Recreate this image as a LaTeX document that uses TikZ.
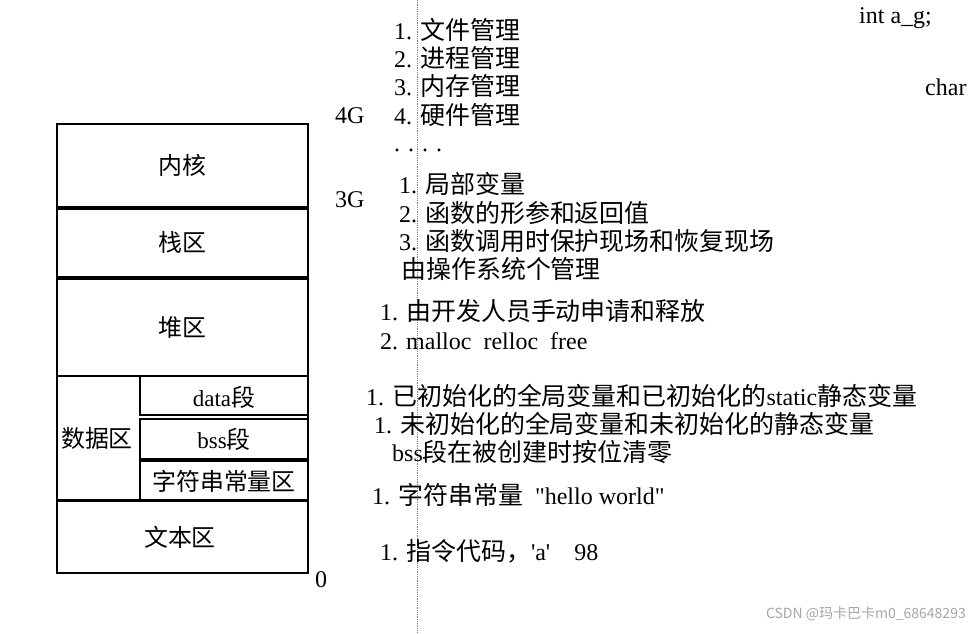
\documentclass[tikz,border=0pt]{standalone}
\usepackage{fontspec}
\setmainfont{Liberation Serif}
\newfontfamily\rf{Liberation Serif}
\newfontfamily\zh{Noto Sans CJK SC}[Scale=1.04]
\newfontfamily\wm{Noto Sans CJK SC}
\begin{document}
\begin{tikzpicture}[x=1pt,y=-1pt,
  box/.style={draw,line width=1.3pt},
  lab/.style={font=\fontsize{23}{26}\selectfont},
  txt/.style={anchor=west,inner sep=0pt,font=\fontsize{24}{26}\selectfont}]
\useasboundingbox[fill=white] (0,0) rectangle (969,633);
\draw[gray,densely dotted,line width=0.8pt] (417,0) -- (417,633);
% memory boxes
\draw[box] (57,124) rectangle (308,207);
\draw[box] (57,209) rectangle (308,277);
\draw[box] (57,279) rectangle (308,376);
\draw[box] (57,376) rectangle (308,500);
\draw[box] (140,376) rectangle (308,415);
\draw[box] (140,419) rectangle (308,459);
\draw[box] (140,461) rectangle (308,500);
\draw[box] (57,501) rectangle (308,573);
\node[lab] (k) at (182,165) {\zh 内核};
\node[lab] (s) at (182,242) {\zh 栈区};
\node[lab] (h) at (182,327) {\zh 堆区};
\node[lab] (d) at (97,438) {\zh 数据区};
\node[lab] (da) at (224,397) {data\zh 段};
\node[lab] (bs) at (224,439) {bss\zh 段};
\node[lab] (st) at (224,481) {\zh 字符串常量区};
\node[lab] (tx) at (180,537) {\zh 文本区};
% labels
\node[txt] (g4) at (335,116) {4G};
\node[txt] (g3) at (335,200) {3G};
\node[txt] (z) at (315,580) {0};
\node[txt] (t1) at (394,30) {1. \zh 文件管理};
\node[txt] (t2) at (394,58) {2. \zh 进程管理};
\node[txt] (t3) at (394,86) {3. \zh 内存管理};
\node[txt] (t4) at (394,115) {4. \zh 硬件管理};
\node[txt] (t5) at (394,150) {. . . .};
\node[txt] (s1) at (399,184) {1. \zh 局部变量};
\node[txt] (s2) at (399,213) {2. \zh 函数的形参和返回值};
\node[txt] (s3) at (399,241) {3. \zh 函数调用时保护现场和恢复现场};
\node[txt] (s4) at (401,269) {\zh 由操作系统个管理};
\node[txt] (h1) at (380,311) {1. \zh 由开发人员手动申请和释放};
\node[txt] (h2) at (380,341) {2. malloc\ \ relloc\ \ free};
\node[txt] (d1) at (366,396) {1. \zh 已初始化的全局变量和已初始化的\normalfont static\zh 静态变量};
\node[txt] (d2) at (374,424) {1. \zh 未初始化的全局变量和未初始化的静态变量};
\node[txt] (d3) at (392,452) {bss\zh 段在被创建时按位清零};
\node[txt] (c1) at (372,495) {1. \zh 字符串常量\rf\ \ "hello world"};
\node[txt] (x1) at (380,551) {1. \zh 指令代码，\rf 'a'\ \ \ \ 98};
\node[txt] (ag) at (859,18) {int a\_g;};
\node[txt] (ch) at (925,87) {char};
\node[anchor=east,inner sep=0pt,text=gray!70,font=\wm\fontsize{14}{16}\selectfont] (w) at (966,614) {CSDN @玛卡巴卡m0\_68648293};
\end{tikzpicture}
\end{document}
